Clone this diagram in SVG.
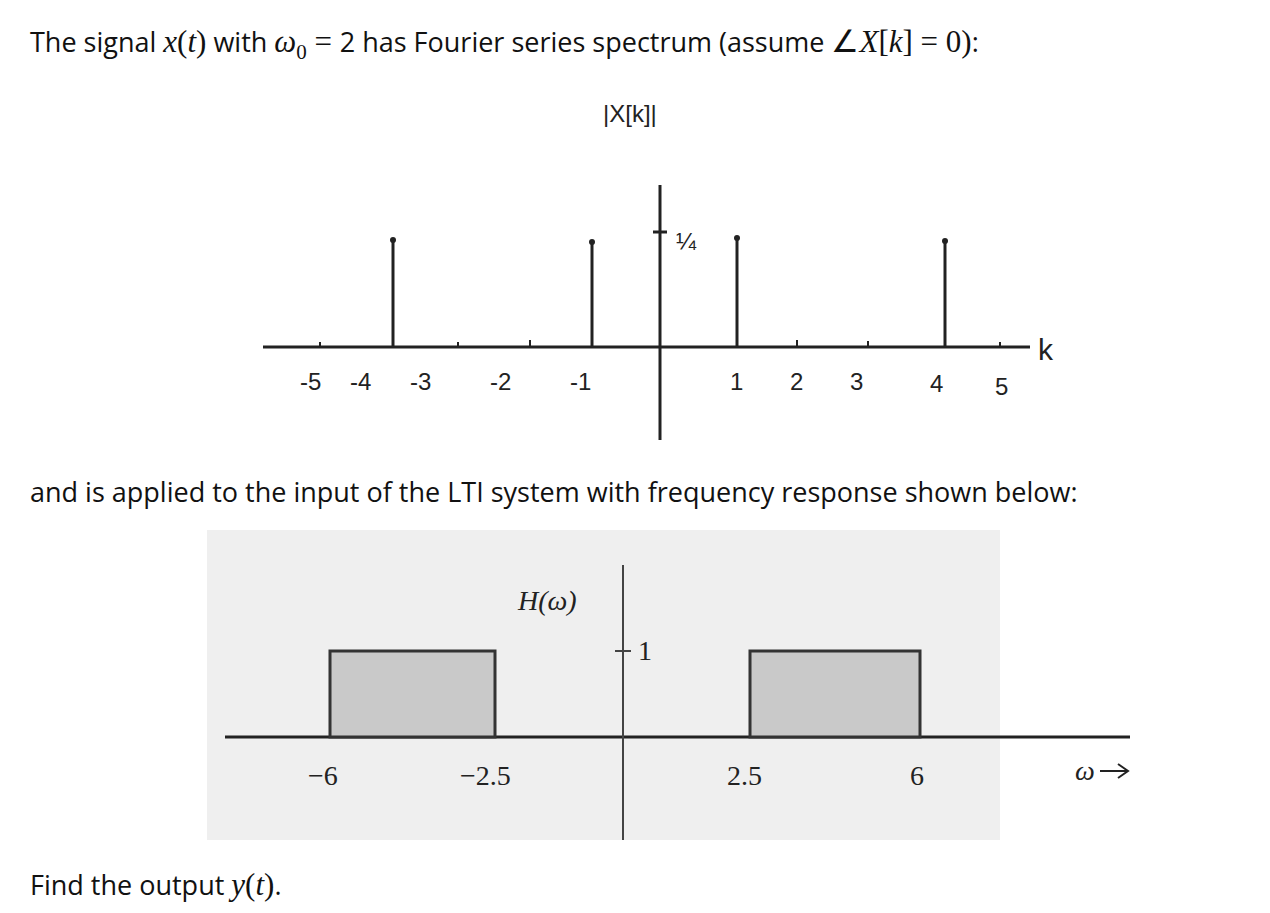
<svg xmlns="http://www.w3.org/2000/svg" width="1270" height="913" viewBox="0 0 1270 913">
<style>
.t{font-family:"Open Sans","Liberation Sans",sans-serif;font-size:27px;fill:#111}
.m{font-family:"Liberation Serif",serif;font-style:italic;font-size:31px}
.r{font-family:"Liberation Serif",serif;font-size:31px}
.sub{font-family:"Liberation Serif",serif;font-size:21px}
.h{font-family:"Liberation Sans",sans-serif;font-size:24px;fill:#222}
.s{font-family:"Liberation Serif",serif;font-size:28px;fill:#222}
.ln{stroke:#222;stroke-width:3;fill:none}
</style>
<rect width="1270" height="913" fill="#fff"/>
<text class="t" x="30" y="52">The signal <tspan class="m">x</tspan><tspan class="r">(</tspan><tspan class="m">t</tspan><tspan class="r">)</tspan> with <tspan class="m">ω</tspan><tspan class="sub" dy="7">0</tspan><tspan class="r" dy="-7"> = </tspan>2 has Fourier series spectrum (assume <tspan class="r">∠</tspan><tspan class="m">X</tspan><tspan class="r">[</tspan><tspan class="m">k</tspan><tspan class="r">] = 0)</tspan>:</text>
<text class="h" x="603" y="122" font-size="30">|X[k]|</text>
<g id="spectrum">
<line class="ln" x1="263" y1="347" x2="1030" y2="347"/>
<line class="ln" x1="660" y1="185" x2="660" y2="440"/>
<line class="ln" x1="653" y1="232" x2="667" y2="232"/>
<text class="h" x="676" y="250" font-size="24">¼</text>
<g stroke="#222" stroke-width="2">
<line x1="320" y1="342" x2="320" y2="347"/><line x1="458" y1="342" x2="458" y2="347"/>
<line x1="530" y1="340" x2="530" y2="347"/><line x1="797" y1="340" x2="797" y2="347"/>
<line x1="868" y1="341" x2="868" y2="347"/><line x1="1000" y1="342" x2="1000" y2="347"/>
</g>
<line class="ln" x1="393" y1="240" x2="393" y2="347"/>
<line class="ln" x1="592" y1="242" x2="592" y2="347"/>
<line class="ln" x1="737" y1="238" x2="737" y2="347"/>
<line class="ln" x1="945" y1="241" x2="945" y2="347"/>
<circle cx="393" cy="240" r="3" fill="#222"/><circle cx="592" cy="242" r="3" fill="#222"/>
<circle cx="737" cy="238" r="3" fill="#222"/><circle cx="945" cy="241" r="3" fill="#222"/>
<g class="h">
<text x="300" y="390">-5</text><text x="350" y="390">-4</text><text x="410" y="390">-3</text>
<text x="490" y="390">-2</text><text x="570" y="390">-1</text>
<text x="730" y="390">1</text><text x="790" y="390">2</text><text x="850" y="390">3</text>
<text x="930" y="392">4</text><text x="995" y="395">5</text>
<text x="1038" y="360" font-size="30">k</text>
</g>
</g>
<text class="t" x="30" y="502">and is applied to the input of the LTI system with frequency response shown below:</text>
<g id="response">
<rect x="207" y="530" width="793" height="310" fill="#efefef"/>
<line class="ln" x1="225" y1="737" x2="1130" y2="737"/>
<line x1="623" y1="565" x2="623" y2="840" stroke="#444" stroke-width="2"/>
<line x1="615" y1="651" x2="631" y2="651" stroke="#444" stroke-width="2"/>
<rect x="330" y="651" width="165" height="86" fill="#c9c9c9" stroke="#333" stroke-width="3"/>
<rect x="750" y="651" width="170" height="86" fill="#c9c9c9" stroke="#333" stroke-width="3"/>
<text class="s" x="518" y="610" font-style="italic">H(ω)</text>
<text class="s" x="638" y="660">1</text>
<text class="s" x="308" y="785">−6</text>
<text class="s" x="460" y="785">−2.5</text>
<text class="s" x="727" y="785">2.5</text>
<text class="s" x="910" y="785">6</text>
<text class="s" x="1075" y="780" font-style="italic" font-size="24">ω</text>
<path d="M1100 771 H1128 M1118 764 L1128 771 L1118 778" stroke="#222" stroke-width="2" fill="none"/>
</g>
<text class="t" x="30" y="895">Find the output <tspan class="m">y</tspan><tspan class="r">(</tspan><tspan class="m">t</tspan><tspan class="r">)</tspan>.</text>
</svg>
